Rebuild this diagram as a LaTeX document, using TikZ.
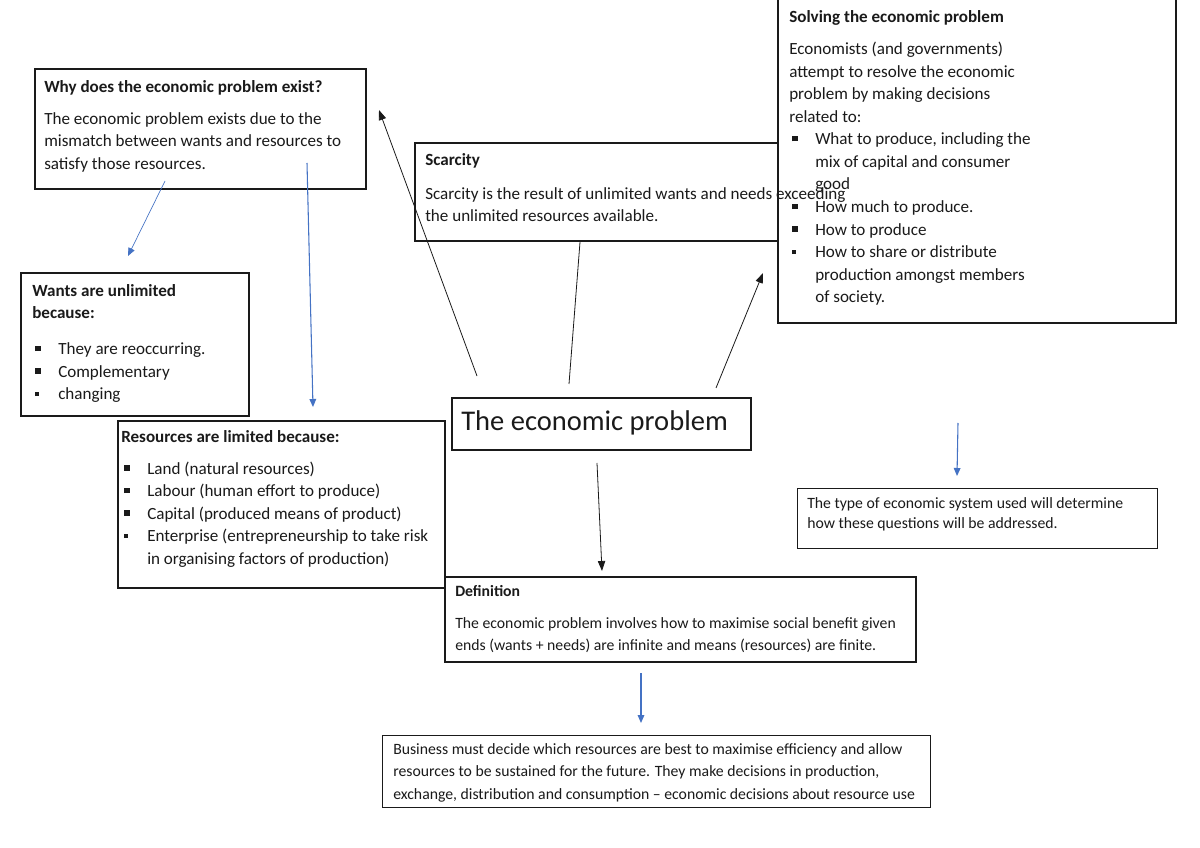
\documentclass[tikz,border=0pt]{standalone}
\usepackage{fontspec}
\setmainfont{Carlito}
\usetikzlibrary{arrows.meta}
\definecolor{arrblue}{HTML}{4472C4}
\definecolor{ink}{HTML}{1A1A1A}
\newcommand{\bsq}{\hspace*{2.25pt}\makebox[17.25pt][l]{\rule[2.6pt]{4pt}{4pt}}}
\newcommand{\bsm}{\hspace*{2.25pt}\makebox[17.25pt][l]{\rule[2.6pt]{3pt}{3pt}}}
\newcommand{\cind}{\hspace*{19.5pt}}
\begin{document}
\begin{tikzpicture}[x=0.75pt,y=-0.75pt,
  box/.style={draw=ink, line width=1.5pt, fill=white, anchor=north west, inner sep=0pt},
  thinbox/.style={draw=ink, line width=0.8pt, fill=white, anchor=north west, inner sep=0pt},
  txt/.style={anchor=north west, inner sep=0pt, align=left, text=ink, font=\fontsize{12.8}{16.9}\selectfont},
  stxt/.style={anchor=north west, inner sep=0pt, align=left, text=ink, font=\fontsize{11.8}{16.9}\selectfont},
  blk/.style={-{Triangle[length=7.5pt,width=5.5pt]}, draw=ink, line width=0.6pt},
  blu/.style={-{Triangle[length=6pt,width=5pt]}, draw=arrblue, line width=0.8pt}]
\useasboundingbox (0,0) rectangle (1200,848);
\fill[white] (0,0) rectangle (1200,848);

% boxes
\node[box, minimum width=248.25pt, minimum height=90pt] (why) at (34,68) {};
\node[box, minimum width=171pt, minimum height=107.25pt] (wants) at (20,272) {};
\node[box, minimum width=245.25pt, minimum height=125.25pt] (res) at (117,420) {};
\node[box, minimum width=282pt, minimum height=73.5pt] (scar) at (414,142) {};
\node[box, minimum width=298.5pt, minimum height=245.25pt] (solve) at (777,-5) {};
\node[box, minimum width=224.25pt, minimum height=39pt] (center) at (451,397) {};
\node[box, minimum width=353.25pt, minimum height=63.75pt] (defn) at (444,576) {};
\node[thinbox, minimum width=270pt, minimum height=45pt] (typebox) at (797,488) {};
\node[thinbox, minimum width=411pt, minimum height=54pt] (busbox) at (382,735) {};

% texts
\node[txt] (whyt) at (44,80) {\textbf{Why does the economic problem exist?}\\[7pt]
The economic problem exists due to the\\
mismatch between wants and resources to\\
satisfy those resources.};

\node[txt] (wantst) at (32,284) {\textbf{Wants are unlimited}\\
\textbf{because:}\\[10pt]
\bsq They are reoccurring.\\
\bsq Complementary\\
\bsm changing};

\node[txt] (rest) at (121,430) {\textbf{Resources are limited because:}\\[7pt]
\bsq Land (natural resources)\\
\bsq Labour (human effort to produce)\\
\bsq Capital (produced means of product)\\
\bsm Enterprise (entrepreneurship to take risk\\
\cind in organising factors of production)};

\node[txt] (solvet) at (789,10) {\textbf{Solving the economic problem}\\[7.5pt]
Economists (and governments)\\
attempt to resolve the economic\\
problem by making decisions\\
related to:\\
\bsq What to produce, including the\\
\cind mix of capital and consumer\\
\cind good\\
\bsq How much to produce.\\
\bsq How to produce\\
\bsm How to share or distribute\\
\cind production amongst members\\
\cind of society.};

\node[txt] (scart) at (425,153) {\textbf{Scarcity}\\[8.5pt]
Scarcity is the result of unlimited wants and needs exceeding\\
the unlimited resources available.};

\node[anchor=base west, inner sep=0pt, text=ink, font=\fontsize{21.4}{26}\selectfont] (centert) at (461,431) {The economic problem};

\node[stxt] (defnt) at (455,585) {\textbf{Definition}\\[7pt]
The economic problem involves how to maximise social benefit given\\
ends (wants + needs) are infinite and means (resources) are finite.};

\node[stxt, font=\fontsize{11.8}{15}\selectfont] (typet) at (807,497) {The type of economic system used will determine\\
how these questions will be addressed.};

\node[stxt] (bust) at (393,743) {Business must decide which resources are best to maximise efficiency and allow\\
resources to be sustained for the future. They make decisions in production,\\
exchange, distribution and consumption -- economic decisions about resource use};

% connector end points
\coordinate (a1s) at (477,376); \coordinate (a1e) at (379,110);
\coordinate (a2s) at (569,384); \coordinate (a2e) at (580,242);
\coordinate (a3s) at (716,388); \coordinate (a3e) at (763,273);
\coordinate (a4s) at (597,463); \coordinate (a4e) at (602,571);
\coordinate (b1s) at (165,181); \coordinate (b1e) at (128,256);
\coordinate (b2s) at (307,163); \coordinate (b2e) at (313,407);
\coordinate (b3s) at (958,423); \coordinate (b3e) at (957,476);
\coordinate (b4s) at (641,673); \coordinate (b4e) at (641,723);

\draw[blk] (a1s) -- (a1e);
\draw[draw=ink, line width=0.6pt] (a2s) -- (a2e);
\draw[blk] (a3s) -- (a3e);
\draw[blk] (a4s) -- (a4e);
\draw[blu, line width=0.5pt] (b1s) -- (b1e);
\draw[blu] (b2s) -- (b2e);
\draw[blu] (b3s) -- (b3e);
\draw[blu] (b4s) -- (b4e);
\end{tikzpicture}
\end{document}
